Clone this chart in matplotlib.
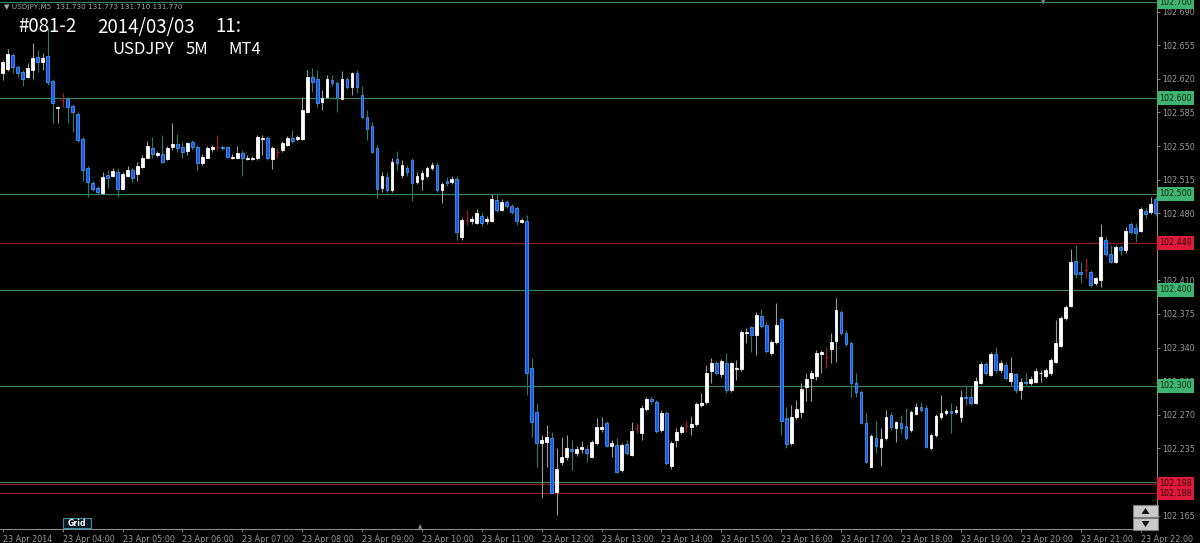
import numpy as np
import matplotlib
matplotlib.use('Agg')
from matplotlib import pyplot as plt
from matplotlib.patches import Rectangle, Polygon
from matplotlib.transforms import blended_transform_factory

# 5 minute candles, 23 Apr 2014 03:00 -> 22:15
opens = [102.626, 102.630, 102.645, 102.632, 102.627, 102.622, 102.629, 102.643, 102.637, 102.644,
         102.618, 102.590, 102.598, 102.599, 102.592, 102.583, 102.557, 102.527, 102.511, 102.506,
         102.501, 102.520, 102.519, 102.523, 102.505, 102.519, 102.525, 102.521, 102.528, 102.538,
         102.548, 102.541, 102.542, 102.536, 102.549, 102.552, 102.549, 102.545, 102.554, 102.549,
         102.532, 102.538, 102.547, 102.549, 102.549, 102.549, 102.538, 102.537, 102.543, 102.536,
         102.536, 102.537, 102.557, 102.558, 102.536, 102.544, 102.546, 102.551, 102.558, 102.557,
         102.557, 102.585, 102.622, 102.620, 102.596, 102.601, 102.619, 102.616, 102.599, 102.620,
         102.611, 102.626, 102.603, 102.580, 102.571, 102.548, 102.506, 102.518, 102.504, 102.536,
         102.520, 102.527, 102.535, 102.512, 102.516, 102.519, 102.527, 102.530, 102.504, 102.514,
         102.512, 102.516, 102.455, 102.473, 102.472, 102.470, 102.477, 102.472, 102.472, 102.494,
         102.483, 102.492, 102.488, 102.485, 102.471, 102.472, 102.319, 102.273, 102.241, 102.242,
         102.246, 102.190, 102.221, 102.226, 102.234, 102.230, 102.234, 102.234, 102.226, 102.241,
         102.255, 102.261, 102.237, 102.238, 102.212, 102.240, 102.228, 102.256, 102.251, 102.276,
         102.286, 102.283, 102.254, 102.272, 102.217, 102.244, 102.252, 102.258, 102.257, 102.260,
         102.280, 102.283, 102.316, 102.324, 102.312, 102.324, 102.296, 102.318, 102.318, 102.355,
         102.361, 102.353, 102.373, 102.364, 102.334, 102.346, 102.370, 102.267, 102.241, 102.268,
         102.273, 102.299, 102.308, 102.310, 102.333, 102.330, 102.339, 102.347, 102.377, 102.355,
         102.345, 102.303, 102.294, 102.261, 102.216, 102.246, 102.236, 102.246, 102.270, 102.256,
         102.261, 102.258, 102.254, 102.271, 102.278, 102.277, 102.235, 102.249, 102.268, 102.272,
         102.274, 102.273, 102.268, 102.289, 102.288, 102.282, 102.303, 102.323, 102.311, 102.333,
         102.317, 102.322, 102.305, 102.312, 102.296, 102.304, 102.303, 102.304, 102.313, 102.310,
         102.313, 102.325, 102.342, 102.371, 102.383, 102.430, 102.419, 102.421, 102.419, 102.407,
         102.410, 102.452, 102.438, 102.429, 102.445, 102.442, 102.469, 102.465, 102.461, 102.482,
         102.481, 102.495]
highs = [102.640, 102.651, 102.647, 102.634, 102.629, 102.636, 102.657, 102.650, 102.647, 102.673,
         102.620, 102.592, 102.605, 102.601, 102.594, 102.585, 102.559, 102.529, 102.514, 102.508,
         102.523, 102.525, 102.527, 102.527, 102.523, 102.529, 102.527, 102.533, 102.541, 102.555,
         102.559, 102.545, 102.561, 102.550, 102.574, 102.563, 102.554, 102.554, 102.556, 102.551,
         102.542, 102.550, 102.551, 102.561, 102.551, 102.550, 102.542, 102.550, 102.546, 102.541,
         102.540, 102.561, 102.561, 102.560, 102.550, 102.548, 102.555, 102.560, 102.567, 102.561,
         102.601, 102.629, 102.631, 102.629, 102.608, 102.624, 102.624, 102.618, 102.628, 102.622,
         102.627, 102.629, 102.613, 102.587, 102.575, 102.551, 102.523, 102.523, 102.537, 102.545,
         102.535, 102.530, 102.537, 102.523, 102.525, 102.529, 102.533, 102.533, 102.512, 102.518,
         102.519, 102.519, 102.475, 102.483, 102.477, 102.484, 102.480, 102.477, 102.500, 102.501,
         102.495, 102.494, 102.490, 102.487, 102.475, 102.478, 102.329, 102.282, 102.249, 102.259,
         102.252, 102.235, 102.247, 102.249, 102.244, 102.237, 102.243, 102.238, 102.244, 102.267,
         102.268, 102.264, 102.244, 102.246, 102.241, 102.244, 102.262, 102.261, 102.280, 102.288,
         102.288, 102.285, 102.275, 102.274, 102.243, 102.256, 102.259, 102.263, 102.269, 102.283,
         102.293, 102.322, 102.329, 102.326, 102.328, 102.334, 102.325, 102.327, 102.358, 102.360,
         102.363, 102.377, 102.380, 102.367, 102.348, 102.386, 102.372, 102.278, 102.280, 102.285,
         102.303, 102.313, 102.317, 102.337, 102.337, 102.341, 102.355, 102.392, 102.379, 102.358,
         102.347, 102.314, 102.296, 102.272, 102.250, 102.264, 102.256, 102.275, 102.273, 102.264,
         102.270, 102.277, 102.275, 102.282, 102.283, 102.280, 102.251, 102.271, 102.291, 102.276,
         102.282, 102.279, 102.296, 102.300, 102.299, 102.309, 102.325, 102.325, 102.335, 102.341,
         102.327, 102.325, 102.330, 102.314, 102.308, 102.314, 102.310, 102.319, 102.317, 102.319,
         102.329, 102.369, 102.373, 102.384, 102.443, 102.447, 102.429, 102.433, 102.421, 102.414,
         102.469, 102.455, 102.447, 102.447, 102.447, 102.466, 102.471, 102.470, 102.486, 102.486,
         102.497, 102.498]
lows = [102.619, 102.628, 102.626, 102.622, 102.613, 102.621, 102.620, 102.627, 102.629, 102.614,
        102.574, 102.574, 102.591, 102.574, 102.565, 102.554, 102.514, 102.497, 102.503, 102.500,
        102.500, 102.506, 102.518, 102.497, 102.504, 102.518, 102.512, 102.514, 102.527, 102.537,
        102.537, 102.539, 102.532, 102.535, 102.546, 102.544, 102.538, 102.541, 102.546, 102.525,
        102.530, 102.537, 102.544, 102.546, 102.546, 102.537, 102.536, 102.536, 102.519, 102.535,
        102.535, 102.535, 102.541, 102.535, 102.526, 102.538, 102.544, 102.550, 102.553, 102.555,
        102.556, 102.584, 102.606, 102.591, 102.587, 102.600, 102.613, 102.585, 102.598, 102.609,
        102.603, 102.605, 102.579, 102.556, 102.543, 102.496, 102.502, 102.502, 102.502, 102.525,
        102.517, 102.519, 102.493, 102.510, 102.504, 102.517, 102.525, 102.502, 102.491, 102.508,
        102.510, 102.452, 102.452, 102.468, 102.469, 102.469, 102.467, 102.469, 102.471, 102.481,
        102.482, 102.485, 102.479, 102.468, 102.470, 102.291, 102.247, 102.216, 102.183, 102.216,
        102.188, 102.166, 102.218, 102.223, 102.212, 102.227, 102.230, 102.221, 102.225, 102.238,
        102.252, 102.236, 102.226, 102.209, 102.210, 102.228, 102.227, 102.251, 102.244, 102.274,
        102.281, 102.251, 102.252, 102.218, 102.214, 102.236, 102.250, 102.252, 102.249, 102.258,
        102.278, 102.281, 102.303, 102.311, 102.309, 102.293, 102.294, 102.306, 102.316, 102.345,
        102.335, 102.332, 102.360, 102.334, 102.332, 102.344, 102.249, 102.235, 102.238, 102.266,
        102.267, 102.284, 102.284, 102.306, 102.314, 102.319, 102.324, 102.325, 102.353, 102.342,
        102.288, 102.288, 102.260, 102.220, 102.216, 102.230, 102.217, 102.244, 102.254, 102.242,
        102.251, 102.244, 102.252, 102.270, 102.273, 102.235, 102.233, 102.247, 102.266, 102.270,
        102.251, 102.271, 102.262, 102.280, 102.280, 102.281, 102.302, 102.311, 102.310, 102.314,
        102.314, 102.306, 102.301, 102.293, 102.286, 102.301, 102.301, 102.303, 102.304, 102.308,
        102.311, 102.324, 102.341, 102.369, 102.382, 102.412, 102.407, 102.413, 102.403, 102.405,
        102.403, 102.435, 102.428, 102.428, 102.436, 102.439, 102.458, 102.450, 102.460, 102.475,
        102.479, 102.477]
closes = [102.637, 102.646, 102.632, 102.626, 102.620, 102.631, 102.642, 102.637, 102.642, 102.617,
          102.595, 102.591, 102.598, 102.591, 102.585, 102.556, 102.525, 102.512, 102.505, 102.502,
          102.518, 102.517, 102.524, 102.505, 102.521, 102.525, 102.517, 102.529, 102.538, 102.550,
          102.542, 102.543, 102.533, 102.548, 102.552, 102.548, 102.544, 102.553, 102.549, 102.532,
          102.539, 102.548, 102.549, 102.549, 102.548, 102.539, 102.539, 102.543, 102.537, 102.538,
          102.538, 102.559, 102.558, 102.537, 102.548, 102.544, 102.553, 102.558, 102.555, 102.559,
          102.587, 102.622, 102.617, 102.595, 102.600, 102.620, 102.616, 102.601, 102.620, 102.611,
          102.626, 102.611, 102.580, 102.568, 102.544, 102.505, 102.519, 102.504, 102.533, 102.532,
          102.530, 102.523, 102.511, 102.519, 102.522, 102.527, 102.530, 102.504, 102.510, 102.511,
          102.516, 102.460, 102.473, 102.473, 102.474, 102.480, 102.470, 102.474, 102.495, 102.483,
          102.492, 102.488, 102.481, 102.472, 102.473, 102.314, 102.262, 102.241, 102.244, 102.247,
          102.189, 102.214, 102.226, 102.235, 102.232, 102.234, 102.236, 102.230, 102.242, 102.257,
          102.257, 102.237, 102.241, 102.210, 102.238, 102.230, 102.253, 102.256, 102.277, 102.286,
          102.284, 102.253, 102.272, 102.220, 102.241, 102.252, 102.257, 102.258, 102.260, 102.281,
          102.282, 102.314, 102.324, 102.313, 102.326, 102.296, 102.324, 102.319, 102.356, 102.356,
          102.353, 102.374, 102.362, 102.336, 102.346, 102.364, 102.264, 102.240, 102.268, 102.276,
          102.297, 102.307, 102.313, 102.334, 102.335, 102.330, 102.346, 102.379, 102.355, 102.344,
          102.303, 102.294, 102.261, 102.221, 102.248, 102.237, 102.245, 102.268, 102.257, 102.262,
          102.256, 102.246, 102.273, 102.278, 102.275, 102.236, 102.249, 102.269, 102.272, 102.274,
          102.272, 102.275, 102.289, 102.287, 102.282, 102.305, 102.323, 102.313, 102.333, 102.317,
          102.324, 102.308, 102.313, 102.296, 102.304, 102.303, 102.307, 102.316, 102.314, 102.317,
          102.327, 102.345, 102.371, 102.382, 102.429, 102.417, 102.417, 102.421, 102.405, 102.412,
          102.455, 102.437, 102.429, 102.445, 102.442, 102.461, 102.460, 102.459, 102.484, 102.479,
          102.490, 102.480]

green_levels = [102.700, 102.600, 102.500, 102.400, 102.300, 102.200]
red_levels = [102.449, 102.198, 102.188]
green_tags = [102.700, 102.600, 102.500, 102.400, 102.300]
red_tags = [102.449, 102.198, 102.188]
# 102.445 and 102.200 sit under the red tags and are not visible
price_ticks = [102.690, 102.655, 102.620, 102.585, 102.550, 102.515, 102.480,
               102.410, 102.375, 102.340, 102.305, 102.270, 102.235, 102.165]
hour_labels = ['23 Apr 2014', '23 Apr 04:00', '23 Apr 05:00', '23 Apr 06:00', '23 Apr 07:00',
               '23 Apr 08:00', '23 Apr 09:00', '23 Apr 10:00', '23 Apr 11:00', '23 Apr 12:00',
               '23 Apr 13:00', '23 Apr 14:00', '23 Apr 15:00', '23 Apr 16:00', '23 Apr 17:00',
               '23 Apr 18:00', '23 Apr 19:00', '23 Apr 20:00', '23 Apr 21:00', '23 Apr 22:00']

W, H = 1200, 543
def fx(px):
    return px / W
def fy(py):
    return 1 - py / H

fig = plt.figure(figsize=(12, 5.43), dpi=100, facecolor='black')
ax = fig.add_axes([0, fy(529), fx(1157), 529 / H])
ax.set_facecolor('black')

o = np.array(opens); h = np.array(highs); l = np.array(lows); c = np.array(closes)
x = np.arange(len(o))
up = c > o
down = c < o
doji = c == o

# level lines
for lv in green_levels:
    ax.axhline(lv, color='#3b7d58', lw=0.9, zorder=1)
for lv in red_levels:
    ax.axhline(lv, color='#8e1b1b', lw=0.9, zorder=1)

# candles
ax.vlines(x[up], l[up], h[up], color='#9a9a9a', lw=0.8, zorder=2)
ax.vlines(x[down], l[down], h[down], color='#1d7f6c', lw=0.8, zorder=2)
ax.vlines(x[doji], l[doji], h[doji], color='#b3181c', lw=0.8, zorder=2)
ax.bar(x[up], c[up] - o[up], bottom=o[up], width=0.55, color='white',
       edgecolor='white', lw=0.6, zorder=3)
ax.bar(x[down], o[down] - c[down], bottom=c[down], width=0.55, color='#1c58e6',
       edgecolor='#3d9af2', lw=0.6, zorder=3)
ax.hlines(o[doji], x[doji] - 0.3, x[doji] + 0.3, color='#b3181c', lw=0.8, zorder=3)

ax.set_xlim(-0.55, 231.3)
ax.set_ylim(102.151, 102.7021)

# axes look
for s in ['top', 'left']:
    ax.spines[s].set_visible(False)
ax.spines['right'].set_color('#8a8a8a')
ax.spines['bottom'].set_color('#8a8a8a')
ax.spines['right'].set_linewidth(0.8)
ax.spines['bottom'].set_linewidth(0.8)
ax.yaxis.tick_right()
ax.set_yticks(price_ticks)
ax.set_yticklabels(['%.3f' % t for t in price_ticks])
ax.tick_params(axis='y', colors='#9a9a9a', labelsize=5.8, length=2, width=0.6, pad=1.5)
ax.set_xticks(np.arange(len(hour_labels)) * 12)
ax.set_xticklabels(hour_labels)
ax.tick_params(axis='x', colors='#9a9a9a', labelsize=5.8, length=2.5, width=0.6, pad=1.5)
for lab in ax.get_xticklabels():
    lab.set_ha('left')

# level tags on price scale
tr = blended_transform_factory(ax.transAxes, ax.transData)
for lv in green_tags:
    ax.text(1.002, lv, '%.3f' % lv, transform=tr, fontsize=5.8, color='#0d2a18',
            va='center', ha='left', clip_on=False, zorder=10,
            bbox=dict(boxstyle='square,pad=0.3', fc='#3fb470', ec='none'))
for lv in red_tags:
    ax.text(1.002, lv, '%.3f' % lv, transform=tr, fontsize=5.8, color='#3a0008',
            va='center', ha='left', clip_on=False, zorder=10,
            bbox=dict(boxstyle='square,pad=0.3', fc='#de1a3c', ec='none'))

# header texts
fig.text(fx(4), fy(7), '\u25bc USDJPY,M5  131.730 131.773 131.710 131.770',
         fontsize=5.2, color='#a8a8a8', va='center', ha='left')
title_font = ['Noto Sans CJK JP', 'DejaVu Sans']
for word, px, py, size in [('#081-2', 18, 27, 13.5), ('2014/03/03', 97, 27, 13.5),
                           ('11:', 215, 27, 13.5), ('USDJPY', 112, 50, 12),
                           ('5M', 186, 50, 12), ('MT4', 228, 50, 12)]:
    fig.text(fx(px), fy(py), word, fontsize=size, color='white', va='center', ha='left',
             family=title_font)

# Grid button
fig.add_artist(Rectangle((fx(63), fy(528)), fx(28), 10 / H, transform=fig.transFigure,
                         fc='#0b1720', ec='#3f8ea8', lw=0.8))
fig.text(fx(77), fy(523), 'Grid', fontsize=5.6, color='white', weight='bold',
         va='center', ha='center')

# small markers
fig.text(fx(1043), fy(3), '\u25bc', fontsize=4, color='#808080', va='center', ha='center')
fig.text(fx(420), fy(527), '\u25b2', fontsize=4, color='#909090', va='center', ha='center')

# scroll buttons
for top, tri in [(505, 'up'), (518, 'down')]:
    fig.add_artist(Rectangle((fx(1133), fy(top + 12)), fx(25), 12 / H,
                             transform=fig.transFigure, fc='#c9c9c9', ec='#7a7a7a', lw=0.8))
    cx, cy = 1145.5, top + 6
    if tri == 'up':
        pts = [(cx - 4, cy + 3), (cx + 4, cy + 3), (cx, cy - 3)]
    else:
        pts = [(cx - 4, cy - 3), (cx + 4, cy - 3), (cx, cy + 3)]
    fig.add_artist(Polygon([(fx(a), fy(b)) for a, b in pts], closed=True,
                           transform=fig.transFigure, fc='#101010', ec='none'))

fig.savefig('out.png', dpi=100, facecolor='black')
